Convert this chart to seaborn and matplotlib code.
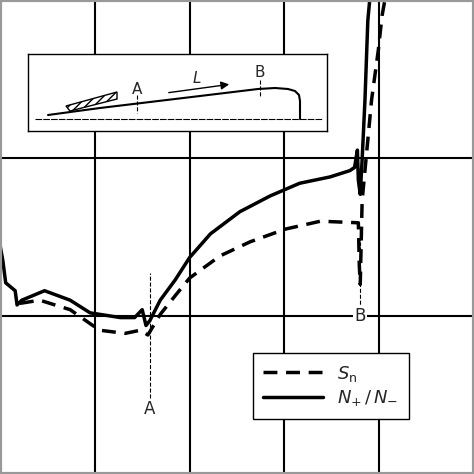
import numpy as np
import pandas as pd
import seaborn as sns
import matplotlib.pyplot as plt
from matplotlib.patches import Polygon

# values (x in grid units, y in grid units)
n_ratio_x = [0.00, 0.03, 0.06, 0.16, 0.18, 0.23, 0.47, 0.74, 0.95, 1.27, 1.42, 1.50, 1.54, 1.58,
             1.69, 1.85, 2.00, 2.22, 2.53, 2.85, 3.16, 3.48, 3.69, 3.74, 3.77, 3.78, 3.80, 3.82,
             3.85, 3.88, 3.90]
n_ratio_y = [1.45, 1.35, 1.21, 1.16, 1.07, 1.10, 1.16, 1.10, 1.02, 0.99, 0.99, 1.04, 0.94, 0.97,
             1.10, 1.23, 1.37, 1.52, 1.66, 1.76, 1.84, 1.88, 1.92, 1.94, 2.05, 1.86, 1.77, 1.99,
             2.37, 2.87, 3.00]
sn_x = [0.21, 0.42, 0.74, 1.05, 1.32, 1.48, 1.56, 1.69, 1.85, 2.00, 2.32, 2.64, 3.01, 3.38,
        3.78, 3.79, 3.80, 3.82, 3.87, 3.92, 3.99, 4.03, 4.06]
sn_y = [1.08, 1.10, 1.04, 0.91, 0.89, 0.91, 0.88, 1.01, 1.13, 1.24, 1.38, 1.47, 1.55, 1.60,
        1.59, 1.32, 1.20, 1.73, 2.05, 2.37, 2.68, 2.90, 3.00]

sns.set_theme(style="white")
plt.rcParams['font.family'] = ['DejaVu Sans']

fig = plt.figure(figsize=(4.74, 4.74), dpi=100)
ax = fig.add_axes([0, 0, 1, 1])
ax.set_xlim(0, 5)
ax.set_ylim(0, 3)
for gx in [1, 2, 3, 4]:
    ax.axvline(gx, color='black', lw=1.5, zorder=0)
for gy in [1, 2]:
    ax.axhline(gy, color='black', lw=1.5, zorder=0)
for s in ax.spines.values():
    s.set_color('#999999')
    s.set_linewidth(3)
ax.set_xticks([])
ax.set_yticks([])

df_n = pd.DataFrame({'x': n_ratio_x, 'y': n_ratio_y})
df_s = pd.DataFrame({'x': sn_x, 'y': sn_y})
sns.lineplot(data=df_s, x='x', y='y', sort=False, ax=ax, color='black', lw=2.5,
             linestyle=(0, (4, 2.5)), label=r'$S_\mathrm{n}$')
sns.lineplot(data=df_n, x='x', y='y', sort=False, ax=ax, color='black', lw=2.5,
             label=r'$N_{+}\,/\,N_{-}$')
ax.set_xlabel('')
ax.set_ylabel('')

# A and B markers
ax.plot([1.58, 1.58], [0.48, 1.27], color='black', lw=0.8, ls='--')
ax.text(1.58, 0.41, 'A', ha='center', va='center', fontsize=12)
ax.plot([3.80, 3.80], [1.0, 1.47], color='black', lw=0.8, ls='--')
ax.text(3.80, 1.0, 'B', ha='center', va='center', fontsize=12,
        bbox=dict(facecolor='white', edgecolor='none', pad=1))

leg = ax.legend(loc='center', bbox_to_anchor=(331 / 474, 1 - 386 / 474),
                fancybox=False, framealpha=1, fontsize=13, handlelength=3.3,
                borderpad=0.6, labelspacing=0.25, borderaxespad=0, handletextpad=0.8)
leg.get_frame().set_edgecolor('black')

# inset sketch
ins = fig.add_axes([28 / 474, 1 - 131 / 474, 299 / 474, 77 / 474])
ins.set_xlim(28, 327)
ins.set_ylim(131, 54)
ins.set_xticks([])
ins.set_yticks([])
for s in ins.spines.values():
    s.set_color('black')
    s.set_linewidth(1)
ins.plot([35, 322], [119, 119], color='black', lw=0.8, ls=(0, (6, 1)))
prof_x = [48, 100, 150, 200, 258, 275, 288, 295, 299, 300, 300]
prof_y = [115, 108, 102, 96, 89, 88, 89, 91, 95, 101, 119]
ins.plot(prof_x, prof_y, color='black', lw=1.5)
ins.add_patch(Polygon([[66, 106], [117, 92], [117, 99], [70, 111]], closed=True,
                      facecolor='white', edgecolor='black', hatch='////', lw=1))
ins.plot([137, 137], [95, 113], color='black', lw=0.8, ls='--')
ins.text(137, 89, 'A', ha='center', va='center', fontsize=11)
ins.plot([260, 260], [80, 97], color='black', lw=0.8, ls='--')
ins.text(260, 72, 'B', ha='center', va='center', fontsize=11)
ins.annotate('', xy=(232, 84), xytext=(166, 93),
             arrowprops=dict(arrowstyle='-|>', color='black', lw=1))
ins.text(197, 78, 'L', ha='center', va='center', fontsize=11, style='italic')

fig.savefig('out.png', dpi=100)
